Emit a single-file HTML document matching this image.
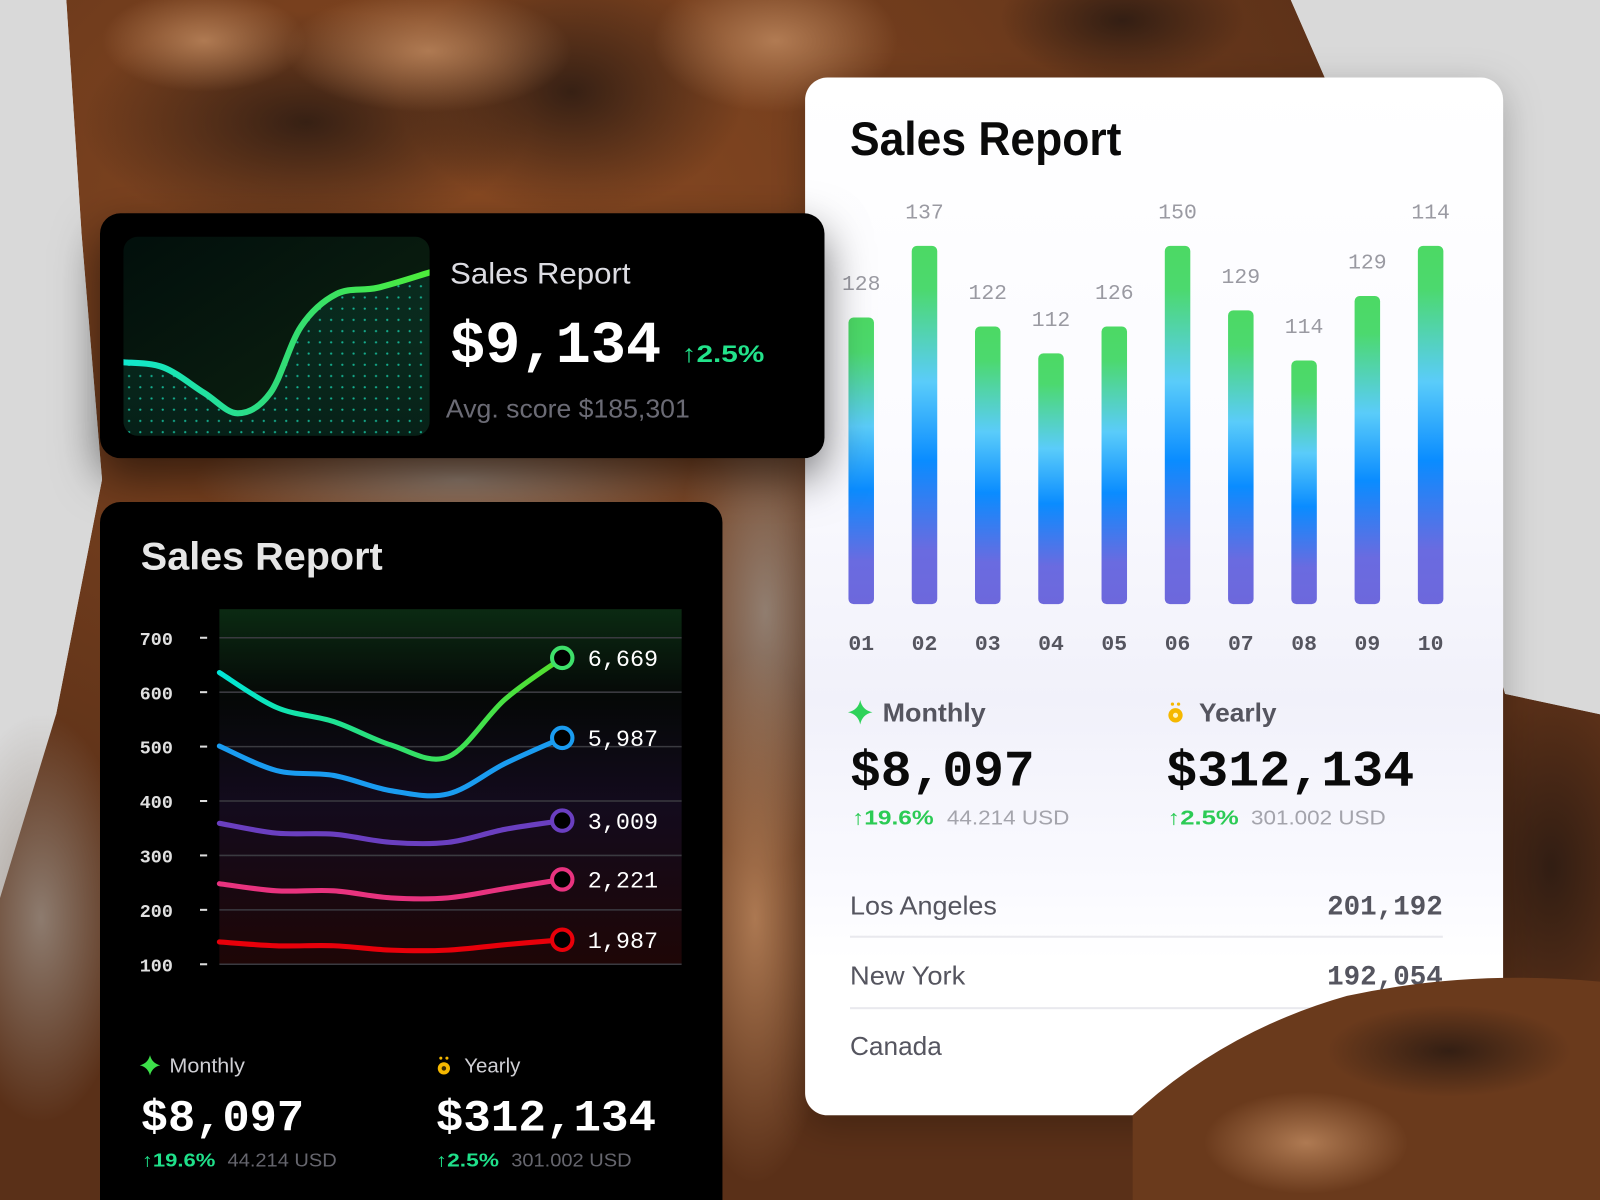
<!DOCTYPE html>
<html><head><meta charset="utf-8">
<style>
html,body{margin:0;padding:0;width:1600px;height:1200px;overflow:hidden;background:#d9d9d9}
#stage{position:absolute;left:0;top:0;width:1568px;height:1176px;transform:scale(1.020408);transform-origin:0 0}
svg{position:absolute;left:0;top:0}
.mono{font-family:"Liberation Mono",monospace}
.sans{font-family:"Liberation Sans",sans-serif}
</style></head>
<body>
<div id="stage">
<svg width="1568" height="1176" viewBox="0 0 1568 1176">
<defs>
  <radialGradient id="br1" cx="0.3" cy="0.2" r="0.6"><stop offset="0" stop-color="#8a4a22"/><stop offset="1" stop-color="#5a3018"/></radialGradient>
  <radialGradient id="dk" cx="0.5" cy="0.5" r="0.5"><stop offset="0" stop-color="#2a1a12" stop-opacity="0.85"/><stop offset="1" stop-color="#2a1a12" stop-opacity="0"/></radialGradient>
  <radialGradient id="lt" cx="0.5" cy="0.5" r="0.5"><stop offset="0" stop-color="#c08a60" stop-opacity="0.8"/><stop offset="1" stop-color="#c08a60" stop-opacity="0"/></radialGradient>
  <radialGradient id="gy" cx="0.5" cy="0.5" r="0.5"><stop offset="0" stop-color="#9a8e84" stop-opacity="0.8"/><stop offset="1" stop-color="#9a8e84" stop-opacity="0"/></radialGradient>
  <linearGradient id="barGrad" x1="0" y1="0" x2="0" y2="1">
    <stop offset="0" stop-color="#4cd964"/><stop offset="0.12" stop-color="#4cd96e"/>
    <stop offset="0.38" stop-color="#5accfa"/><stop offset="0.6" stop-color="#0a8cff"/>
    <stop offset="0.85" stop-color="#6a6be0"/><stop offset="1" stop-color="#6d68dc"/>
  </linearGradient>
  <linearGradient id="whiteBg" x1="0" y1="0" x2="0" y2="1">
    <stop offset="0" stop-color="#ffffff"/><stop offset="0.35" stop-color="#fbfbff"/>
    <stop offset="0.6" stop-color="#f1f1fa"/><stop offset="0.78" stop-color="#fafaff"/><stop offset="0.85" stop-color="#ffffff"/>
  </linearGradient>
  <linearGradient id="lineBg" x1="0" y1="0" x2="0" y2="1">
    <stop offset="0" stop-color="#0b2a12"/><stop offset="0.25" stop-color="#050807"/>
    <stop offset="0.55" stop-color="#130b1d"/><stop offset="1" stop-color="#1e0606"/>
  </linearGradient>
  <linearGradient id="s1Grad" x1="215" y1="0" x2="551" y2="0" gradientUnits="userSpaceOnUse">
    <stop offset="0" stop-color="#00e6d8"/><stop offset="0.5" stop-color="#2ee070"/><stop offset="1" stop-color="#55e02a"/>
  </linearGradient>
  <linearGradient id="miniBg" x1="0" y1="0" x2="1" y2="1">
    <stop offset="0" stop-color="#020f0c"/><stop offset="1" stop-color="#0d2410"/>
  </linearGradient>
  <linearGradient id="miniLine" x1="121" y1="0" x2="421" y2="0" gradientUnits="userSpaceOnUse">
    <stop offset="0" stop-color="#10e8cf"/><stop offset="0.5" stop-color="#30dc78"/><stop offset="1" stop-color="#4ded3a"/>
  </linearGradient>
  <pattern id="dots" width="11" height="11" patternUnits="userSpaceOnUse">
    <circle cx="5.5" cy="5.5" r="1.1" fill="#17c8a5"/>
  </pattern>
  <linearGradient id="dotFade" x1="0" y1="0" x2="0" y2="1">
    <stop offset="0" stop-color="#0a3a2c" stop-opacity="0.5"/><stop offset="1" stop-color="#062018" stop-opacity="0.9"/>
  </linearGradient>
  <clipPath id="miniClip"><rect x="121" y="232" width="300" height="195" rx="14"/></clipPath>
  <filter id="shadow" x="-20%" y="-20%" width="140%" height="150%"><feDropShadow dx="0" dy="18" stdDeviation="22" flood-color="#000" flood-opacity="0.55"/></filter>
  <filter id="soft" x="-10%" y="-10%" width="120%" height="120%"><feDropShadow dx="0" dy="10" stdDeviation="18" flood-color="#000" flood-opacity="0.25"/></filter>
</defs>

<g>
  <path d="M65,0 L1265,0 L1300,80 L1475,680 L1568,700 L1568,1176 L0,1176 L0,880 L55,700 L100,470 L80,230 Z" fill="url(#br1)"/>
  <ellipse cx="300" cy="120" rx="220" ry="110" fill="url(#dk)"/>
  <ellipse cx="560" cy="90" rx="170" ry="120" fill="url(#dk)"/>
  <ellipse cx="760" cy="40" rx="120" ry="70" fill="url(#lt)"/>
  <ellipse cx="420" cy="50" rx="140" ry="60" fill="url(#lt)"/>
  <ellipse cx="200" cy="40" rx="100" ry="50" fill="url(#lt)"/>
  <ellipse cx="450" cy="470" rx="260" ry="60" fill="url(#gy)"/>
  <ellipse cx="750" cy="600" rx="90" ry="250" fill="url(#gy)"/>
  <ellipse cx="740" cy="900" rx="80" ry="260" fill="url(#lt)"/>
  <ellipse cx="40" cy="900" rx="90" ry="200" fill="url(#gy)"/>
  <ellipse cx="1520" cy="850" rx="90" ry="170" fill="url(#dk)"/>
  <ellipse cx="1100" cy="20" rx="120" ry="60" fill="url(#dk)"/>
  <path d="M1265,0 L1568,0 L1568,700 L1475,680 L1300,80 Z" fill="#d9d9d9"/>
  <path d="M0,0 L65,0 L80,230 L100,470 L55,700 L0,700 Z" fill="#d9d9d9"/>
</g>

<g>
  <rect x="789" y="76" width="684" height="1017" rx="22" fill="url(#whiteBg)" filter="url(#soft)"/>
  <text x="833" y="152" class="sans" font-size="46" font-weight="700" fill="#0a0a0a" textLength="266" lengthAdjust="spacingAndGlyphs">Sales Report</text>
  <g id="bars"></g>

  <g>
    <path d="M843,686 Q845,696 855,698 Q845,700 843,710 Q841,700 831,698 Q841,696 843,686 Z" fill="#2fd25a"/>
    <text x="865" y="707" class="sans" font-size="25" font-weight="700" fill="#55555f" textLength="101" lengthAdjust="spacingAndGlyphs">Monthly</text>
    <text x="833" y="770" class="mono" font-size="50" font-weight="700" fill="#0a0a0a" textLength="181" lengthAdjust="spacingAndGlyphs">$8,097</text>
    <text x="835" y="808" class="sans" font-size="20" font-weight="700" fill="#2ccb55" textLength="80" lengthAdjust="spacingAndGlyphs">↑19.6%</text>
    <text x="928" y="808" class="sans" font-size="20" fill="#a4a4ac" textLength="120" lengthAdjust="spacingAndGlyphs">44.214 USD</text>
  </g>
  <g>
    <circle cx="1152" cy="701" r="7" fill="#f5b800"/>
    <circle cx="1149" cy="690" r="1.6" fill="#f5b800"/><circle cx="1155" cy="690" r="1.6" fill="#f5b800"/>
    <circle cx="1152" cy="701" r="2.5" fill="#fff3c0"/>
    <text x="1175" y="707" class="sans" font-size="25" font-weight="700" fill="#55555f" textLength="76" lengthAdjust="spacingAndGlyphs">Yearly</text>
    <text x="1143" y="770" class="mono" font-size="50" font-weight="700" fill="#0a0a0a" textLength="243" lengthAdjust="spacingAndGlyphs">$312,134</text>
    <text x="1144" y="808" class="sans" font-size="20" font-weight="700" fill="#2ccb55" textLength="70" lengthAdjust="spacingAndGlyphs">↑2.5%</text>
    <text x="1226" y="808" class="sans" font-size="20" fill="#a4a4ac" textLength="132" lengthAdjust="spacingAndGlyphs">301.002 USD</text>
  </g>
  <g>
    <text x="833" y="896" class="sans" font-size="25" fill="#55555f" textLength="144" lengthAdjust="spacingAndGlyphs">Los Angeles</text>
    <text x="1414" y="896" text-anchor="end" class="mono" font-size="27" font-weight="700" fill="#55555f">201,192</text>
    <rect x="833" y="917" width="581" height="2" fill="#e9e9ee"/>
    <text x="833" y="965" class="sans" font-size="25" fill="#55555f" textLength="113" lengthAdjust="spacingAndGlyphs">New York</text>
    <text x="1414" y="965" text-anchor="end" class="mono" font-size="27" font-weight="700" fill="#55555f">192,054</text>
    <rect x="833" y="987" width="581" height="2" fill="#e9e9ee"/>
    <text x="833" y="1034" class="sans" font-size="25" fill="#55555f" textLength="90" lengthAdjust="spacingAndGlyphs">Canada</text>
  </g>
</g>

<g>
  <rect x="98" y="492" width="610" height="720" rx="20" fill="#000"/>
  <text x="138" y="558" class="sans" font-size="38" font-weight="700" fill="#e6e6e6" textLength="237" lengthAdjust="spacingAndGlyphs">Sales Report</text>
  <rect x="215" y="597" width="453" height="348" fill="url(#lineBg)"/>
  <g id="lineChart"></g>
  <g>
    <path d="M147,1034 Q149,1042 157,1044 Q149,1046 147,1054 Q145,1046 137,1044 Q145,1042 147,1034 Z" fill="#3de04a"/>
    <text x="166" y="1051" class="sans" font-size="20" fill="#cfcfd4" textLength="74" lengthAdjust="spacingAndGlyphs">Monthly</text>
    <text x="138" y="1108" class="mono" font-size="44" font-weight="700" fill="#fff" textLength="160" lengthAdjust="spacingAndGlyphs">$8,097</text>
    <text x="139" y="1143" class="sans" font-size="18" font-weight="700" fill="#1fe08a" textLength="72" lengthAdjust="spacingAndGlyphs">↑19.6%</text>
    <text x="223" y="1143" class="sans" font-size="18" fill="#66666e" textLength="107" lengthAdjust="spacingAndGlyphs">44.214 USD</text>
  </g>
  <g>
    <circle cx="435" cy="1047" r="6" fill="#f5b800"/>
    <circle cx="432" cy="1037" r="1.5" fill="#f5b800"/><circle cx="438" cy="1037" r="1.5" fill="#f5b800"/>
    <circle cx="435" cy="1047" r="2.2" fill="#3a2a00"/>
    <text x="455" y="1051" class="sans" font-size="20" fill="#cfcfd4" textLength="55" lengthAdjust="spacingAndGlyphs">Yearly</text>
    <text x="427" y="1108" class="mono" font-size="44" font-weight="700" fill="#fff" textLength="216" lengthAdjust="spacingAndGlyphs">$312,134</text>
    <text x="427" y="1143" class="sans" font-size="18" font-weight="700" fill="#1fe08a" textLength="62" lengthAdjust="spacingAndGlyphs">↑2.5%</text>
    <text x="501" y="1143" class="sans" font-size="18" fill="#66666e" textLength="118" lengthAdjust="spacingAndGlyphs">301.002 USD</text>
  </g>
</g>

<g>
  <rect x="98" y="209" width="710" height="240" rx="20" fill="#000" filter="url(#shadow)"/>
  <rect x="121" y="232" width="300" height="195" rx="14" fill="url(#miniBg)"/>
  <g id="miniChart" clip-path="url(#miniClip)"></g>
  <text x="441" y="278" class="sans" font-size="29" fill="#dcdce2" textLength="177" lengthAdjust="spacingAndGlyphs">Sales Report</text>
  <text x="441" y="355" class="mono" font-size="58" font-weight="700" fill="#fff" textLength="207" lengthAdjust="spacingAndGlyphs">$9,134</text>
  <text x="668" y="355" class="sans" font-size="24" font-weight="700" fill="#22e28a" textLength="81" lengthAdjust="spacingAndGlyphs">↑2.5%</text>
  <text x="437" y="409" class="sans" font-size="25" fill="#6b6b75" textLength="239" lengthAdjust="spacingAndGlyphs">Avg. score $185,301</text>
</g>

<g>
  <path d="M1110,1176 L1110,1093 Q1200,1010 1320,976 Q1440,950 1568,962 L1568,1176 Z" fill="#6a3a1c"/>
  <ellipse cx="1420" cy="1030" rx="120" ry="45" fill="url(#dk)"/>
  <ellipse cx="1280" cy="1120" rx="100" ry="50" fill="url(#lt)"/>
</g>
</svg>
</div>

<script>
const NS='http://www.w3.org/2000/svg';
function mk(tag,attrs,parent){const e=document.createElementNS(NS,tag);for(const k in attrs)e.setAttribute(k,attrs[k]);parent.appendChild(e);return e;}
function smooth(pts){let d='M'+pts[0][0]+','+pts[0][1];for(let i=0;i<pts.length-1;i++){const p0=pts[i-1]||pts[i],p1=pts[i],p2=pts[i+1],p3=pts[i+2]||p2;const c1x=p1[0]+(p2[0]-p0[0])/6,c1y=p1[1]+(p2[1]-p0[1])/6,c2x=p2[0]-(p3[0]-p1[0])/6,c2y=p2[1]-(p3[1]-p1[1])/6;d+=' C'+c1x+','+c1y+' '+c2x+','+c2y+' '+p2[0]+','+p2[1];}return d;}

/* ---- bar chart data ---- */
const barCategories=['01','02','03','04','05','06','07','08','09','10'];
const barLabels=[128,137,122,112,126,150,129,114,129,114];
const barValues=[80,100,77.5,70,77.5,100,82,68,86,100];
const barMax=100;
function barX(i){return 844+i*62;}
function barY(v){return 592-v/barMax*351;}

const bars=document.getElementById('bars');
barValues.forEach((v,i)=>{
  const x=barX(i),y=barY(v);
  const r=mk('rect',{x:x-12.5,y:y,width:25,height:592-y,rx:5,fill:'url(#barGrad)'},bars);
  
  
  const t=mk('text',{x:x,y:y-27,'text-anchor':'middle','class':'mono','font-size':'21',fill:'#9a9aa2'},bars);
  t.textContent=barLabels[i];
  
  
  const c=mk('text',{x:x,y:637,'text-anchor':'middle','class':'mono','font-size':'21','font-weight':'700',fill:'#55555f'},bars);
  c.textContent=barCategories[i];
  
  
});

/* ---- line chart data ---- */
const yTicks=[700,600,500,400,300,200,100];
const lineSeries1=[636,572,546,503,481,587,663];
const lineSeries2=[501,456,447,419,413,469,516];
const lineSeries3=[359,341,339,324,324,348,364];
const lineSeries4=[248,235,235,222,222,239,256];
const lineSeries5=[141,134,134,126,126,136,145];
const endLabels=['6,669','5,987','3,009','2,221','1,987'];
const seriesColors=['url(#s1Grad)','#1a9cf0','#6a3fc0','#e8337f','#e8000a'];
const ringColors=['#3ee06a','#1a9cf0','#6a3fc0','#e8337f','#e8000a'];
function lx(i){return 215+i*56;}
function ly(v){return 625+(700-v)/100*53.33;}

const lc=document.getElementById('lineChart');
yTicks.forEach(t=>{
  const y=ly(t);
  const g=mk('line',{x1:215,x2:668,y1:y,y2:y,stroke:'#3a3a40','stroke-width':'1.5'},lc);
  
  
  mk('line',{x1:196,x2:203,y1:y,y2:y,stroke:'#ddd','stroke-width':'2'},lc);
  const tx=mk('text',{x:137,y:y+7,'class':'mono','font-size':'18','font-weight':'700',fill:'#e0e0e0'},lc);
  tx.textContent=t;
  
  
});
[lineSeries1,lineSeries2,lineSeries3,lineSeries4,lineSeries5].forEach((s,k)=>{
  const pts=s.map((v,i)=>[lx(i),ly(v)]);
  const p=mk('path',{d:smooth(pts),fill:'none',stroke:seriesColors[k],'stroke-width':'5','stroke-linecap':'round'},lc);
  
  
  const last=pts[pts.length-1];
  const c=mk('circle',{cx:last[0],cy:last[1],r:10,fill:'#000',stroke:ringColors[k],'stroke-width':'4'},lc);
  
  
  const t=mk('text',{x:576,y:last[1]+8,'class':'mono','font-size':'23',fill:'#fff'},lc);
  t.textContent=endLabels[k];
  
  
});

/* ---- mini chart data ---- */
const miniValues=[72,67,42,22,42,107,139,145,160];
const miniSteps=[0,39,79,112,144,174,209,249,300];
function mx(i){return 121+miniSteps[i];}
function my(v){return 427-v;}
const mc=document.getElementById('miniChart');
const mpts=miniValues.map((v,i)=>[mx(i),my(v)]);
const md=smooth(mpts);
mk('path',{d:md+' L421,427 L121,427 Z',fill:'url(#dotFade)'},mc);
mk('path',{d:md+' L421,427 L121,427 Z',fill:'url(#dots)',opacity:'0.85'},mc);
const ml=mk('path',{d:md,fill:'none',stroke:'url(#miniLine)','stroke-width':'6','stroke-linecap':'round'},mc);


</script>
</body></html>
